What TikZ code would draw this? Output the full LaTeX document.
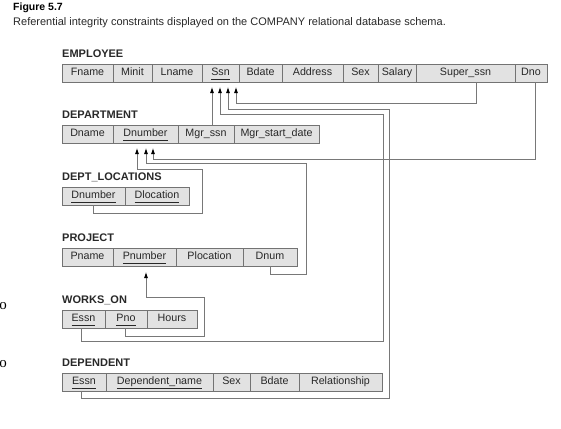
\documentclass[tikz,border=0pt]{standalone}
\usepackage{fontspec}
\setmainfont{Liberation Sans}
\newfontfamily\strayfont{Liberation Serif}
\usetikzlibrary{arrows.meta,positioning}
\definecolor{CellClr}{RGB}{226,226,226}
\definecolor{EdgeClr}{RGB}{115,115,115}
\definecolor{LinkClr}{RGB}{120,120,120}
\definecolor{TextClr}{RGB}{40,40,40}
\newcommand{\keyattr}[1]{\underline{#1\vphantom{p}}}

\tikzset{
  cell/.style={draw=EdgeClr,fill=CellClr,line width=0.8pt,inner sep=0pt,outer sep=0pt,
    minimum height=18pt,text height=7.7pt,text depth=2.4pt,text=TextClr,
    font=\fontsize{10.7}{12}\selectfont},
  relname/.style={inner sep=0pt,text depth=0pt,text=TextClr,
    font=\bfseries\fontsize{11}{13}\selectfont},
  fk/.style={draw=LinkClr,line width=0.8pt,-{Latex[length=6pt,width=4pt,color=black]}}
}

\begin{document}
\begin{tikzpicture}[x=1pt,y=-1pt]
\useasboundingbox (0,0) rectangle (561,428);

% Title and caption of the figure.
\node[anchor=west,inner sep=0pt,font=\bfseries\fontsize{10.5}{12}\selectfont] (figno) at (13,8) {Figure 5.7};
\node[anchor=west,inner sep=0pt,text=TextClr,font=\fontsize{11}{13}\selectfont] (caption) at (13,23)
  {Referential integrity constraints displayed on the COMPANY relational database schema.};

% Stray letters cut at the left edge of the page.
\node[anchor=base east,inner sep=0pt,font=\strayfont\fontsize{15}{15}\selectfont] (strayA) at (7,309) {o};
\node[anchor=base east,inner sep=0pt,font=\strayfont\fontsize{15}{15}\selectfont] (strayB) at (7,367) {o};

% EMPLOYEE.
\node[cell,minimum width=51pt,anchor=north west] (eFname) at (62,64) {Fname};
\node[cell,minimum width=39pt,right=0pt of eFname] (eMinit) {Minit};
\node[cell,minimum width=50pt,right=0pt of eMinit] (eLname) {Lname};
\node[cell,minimum width=37pt,right=0pt of eLname] (eSsn) {\keyattr{Ssn}};
\node[cell,minimum width=43pt,right=0pt of eSsn] (eBdate) {Bdate};
\node[cell,minimum width=61pt,right=0pt of eBdate] (eAddress) {Address};
\node[cell,minimum width=35pt,right=0pt of eAddress] (eSex) {Sex};
\node[cell,minimum width=38pt,right=0pt of eSex] (eSalary) {Salary};
\node[cell,minimum width=99pt,right=0pt of eSalary] (eSuperssn) {Super\_ssn};
\node[cell,minimum width=32pt,right=0pt of eSuperssn] (eDno) {Dno};
\node[relname,above right=6pt and 0pt of eFname.north west] (employee) {EMPLOYEE};

% DEPARTMENT.
\node[cell,minimum width=51pt,anchor=north west] (dDname) at (62,125) {Dname};
\node[cell,minimum width=65pt,right=0pt of dDname] (dDnumber) {\keyattr{Dnumber}};
\node[cell,minimum width=56pt,right=0pt of dDnumber] (dMgrssn) {Mgr\_ssn};
\node[cell,minimum width=85pt,right=0pt of dMgrssn] (dMgrstart) {Mgr\_start\_date};
\node[relname,above right=6pt and 0pt of dDname.north west] (department) {DEPARTMENT};

% DEPT_LOCATIONS.
\node[cell,minimum width=63pt,anchor=north west] (lDnumber) at (62,187) {\keyattr{Dnumber}};
\node[cell,minimum width=64pt,right=0pt of lDnumber] (lDlocation) {\keyattr{Dlocation}};
\node[relname,above right=6pt and 0pt of lDnumber.north west] (deptloc) {DEPT\_LOCATIONS};

% PROJECT.
\node[cell,minimum width=51pt,anchor=north west] (pPname) at (62,248) {Pname};
\node[cell,minimum width=63pt,right=0pt of pPname] (pPnumber) {\keyattr{Pnumber}};
\node[cell,minimum width=67pt,right=0pt of pPnumber] (pPlocation) {Plocation};
\node[cell,minimum width=54pt,right=0pt of pPlocation] (pDnum) {Dnum};
\node[relname,above right=6pt and 0pt of pPname.north west] (project) {PROJECT};

% WORKS_ON.
\node[cell,minimum width=43pt,anchor=north west] (wEssn) at (62,310) {\keyattr{Essn}};
\node[cell,minimum width=42pt,right=0pt of wEssn] (wPno) {\keyattr{Pno}};
\node[cell,minimum width=50pt,right=0pt of wPno] (wHours) {Hours};
\node[relname,above right=6pt and 0pt of wEssn.north west] (workson) {WORKS\_ON};

% DEPENDENT.
\node[cell,minimum width=44pt,anchor=north west] (tEssn) at (62,373) {\keyattr{Essn}};
\node[cell,minimum width=107pt,right=0pt of tEssn] (tDepname) {\keyattr{Dependent\_name}};
\node[cell,minimum width=37pt,right=0pt of tDepname] (tSex) {Sex};
\node[cell,minimum width=49pt,right=0pt of tSex] (tBdate) {Bdate};
\node[cell,minimum width=83pt,right=0pt of tBdate] (tRelation) {Relationship};
\node[relname,above right=6pt and 0pt of tEssn.north west] (dependent) {DEPENDENT};

% Arrow tips under the referenced keys.
\coordinate (ssnA) at ([xshift=-8.5pt,yshift=-5pt]eSsn.south);
\coordinate (ssnB) at ([xshift=-0.5pt,yshift=-5pt]eSsn.south);
\coordinate (ssnC) at ([xshift=7.5pt,yshift=-5pt]eSsn.south);
\coordinate (ssnD) at ([xshift=15.5pt,yshift=-5pt]eSsn.south);
\coordinate (dnoA) at ([xshift=-8.5pt,yshift=-5pt]dDnumber.south);
\coordinate (dnoB) at ([xshift=0.5pt,yshift=-5pt]dDnumber.south);
\coordinate (dnoC) at ([xshift=7.5pt,yshift=-5pt]dDnumber.south);
\coordinate (pnoA) at ([xshift=1.5pt,yshift=-6pt]pPnumber.south);

% Foreign keys to EMPLOYEE.Ssn.
\draw[fk] (dMgrssn.north -| ssnA) -- (ssnA);
\draw[fk] ([xshift=-2.5pt]wEssn.south) -- ++(0,13) -| ++(302,-227) -| (ssnB);
\draw[fk] ([xshift=-3pt]tEssn.south) -- ++(0,7) -| ++(308,-289) -| (ssnC);
\draw[fk] ([xshift=10.5pt]eSuperssn.south) -- ++(0,21) -| (ssnD);

% Foreign keys to DEPARTMENT.Dnumber.
\draw[fk] ([xshift=-0.5pt]lDnumber.south) -- ++(0,8) -| ++(109,-44) -| (dnoA);
\draw[fk] (pDnum.south) -- ++(0,8) -| ++(36,-111) -| (dnoB);
\draw[fk] ([xshift=4pt]eDno.south) -- ++(0,77) -| (dnoC);

% Foreign key to PROJECT.Pnumber.
\draw[fk] ([xshift=-1pt]wPno.south) -- ++(0,8) -| ++(79,-39) -| (pnoA);

\end{tikzpicture}
\end{document}
